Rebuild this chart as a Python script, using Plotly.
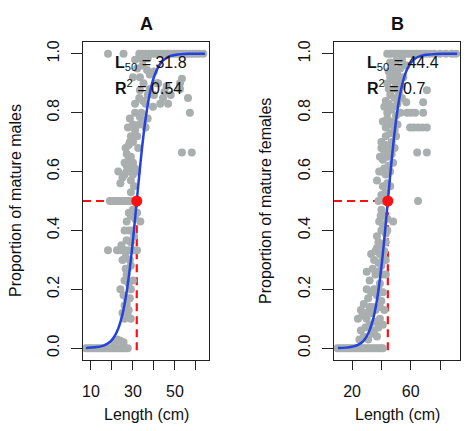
import plotly.graph_objects as go

# -------------------------------------------------
# Data
# -------------------------------------------------
MALE_LEN = [
    7.5, 8.5, 9.5, 10.5, 11.5, 12.5, 13.5, 14.5, 15.5, 16.5, 17.5, 18.5, 19.5, 20.5,
    21.5, 22.5, 23.5, 24.5, 25.5, 26.5, 27.5,
    21, 22.5, 24, 25.5, 26, 27.5, 29, 26, 27, 27, 28.5,
    24, 26, 28, 30, 26.5, 27.5, 25, 26.5, 28.5,
    18.1, 22.4, 24, 26, 28, 30, 31.9, 27, 28, 29.5,
    27, 29, 31, 33.5, 19, 21, 23, 25, 27, 29, 31, 29, 30.5,
    23, 25, 27, 29, 31, 26, 28, 30,
    27, 30, 27.6, 30, 33.3, 37, 32, 28.5,
    34.8, 39.5, 43, 46.7, 33.3, 37, 44.3,
    56.2, 57.1, 53.3, 58, 52.4,
    30, 33.3, 36.7, 41.4, 46, 52.4, 53.3,
    31, 33, 35, 37,
    25, 28, 25.5, 29, 27, 29, 24.5, 29, 30.5, 26, 28, 30, 32,
    20, 22, 24, 26, 28, 30,
    24, 26, 28, 30, 32, 27, 29,
    26.5, 28, 29, 31, 33, 35, 28.5, 31, 34, 36, 32.5,
    31, 33, 36, 38, 40, 35, 38, 32, 34.5, 40, 42, 45, 48,
    18.1, 25.5, 33, 34.5, 36, 37.5, 39, 40.5, 42, 43.5, 45, 46.5, 48, 49.5,
    51, 52.5, 54, 55.5, 57, 58.5, 60, 61.5, 63.5,
]
MALE_PROP = [
    0, 0, 0, 0, 0, 0, 0, 0, 0, 0, 0, 0, 0, 0,
    0, 0, 0, 0, 0, 0, 0,
    0.02, 0.03, 0.025, 0.02, 0.10, 0.11, 0.10, 0.145, 0.15, 0.17, 0.17,
    0.20, 0.23, 0.22, 0.23, 0.27, 0.27, 0.30, 0.31, 0.30,
    0.333, 0.333, 0.333, 0.333, 0.333, 0.333, 0.333, 0.367, 0.40, 0.40,
    0.43, 0.45, 0.44, 0.43, 0.5, 0.5, 0.5, 0.5, 0.5, 0.5, 0.5, 0.53, 0.55,
    0.60, 0.58, 0.60, 0.57, 0.61, 0.63, 0.64, 0.63,
    0.66, 0.70, 0.75, 0.76, 0.785, 0.78, 0.72, 0.70,
    0.84, 0.82, 0.83, 0.83, 0.876, 0.86, 0.85,
    0.85, 0.80, 0.665, 0.665, 0.88,
    0.92, 0.92, 0.945, 0.90, 0.89, 0.90, 0.915,
    0.98, 0.985, 0.98, 0.985,
    0.12, 0.13, 0.18, 0.20, 0.25, 0.28, 0.35, 0.36, 0.38, 0.40, 0.46, 0.47, 0.46,
    0.5, 0.5, 0.5, 0.5, 0.5, 0.5,
    0.56, 0.59, 0.61, 0.59, 0.60, 0.62, 0.65,
    0.68, 0.69, 0.72, 0.74, 0.76, 0.77, 0.78, 0.80, 0.80, 0.75, 0.68,
    0.83, 0.85, 0.83, 0.88, 0.86, 0.90, 0.93, 0.95, 0.96, 0.94, 0.90, 0.87, 0.86,
    1, 1, 1, 1, 1, 1, 1, 1, 1, 1, 1, 1, 1, 1,
    1, 1, 1, 1, 1, 1, 1, 1, 1,
]

FEMALE_LEN = [
    10, 11.5, 13, 14.5, 16, 17.5, 19, 20.5, 22, 23.5, 25, 26.5, 28, 29.5, 31, 32.5,
    34, 35.5, 37, 38.5, 40, 41,
    25, 28, 31, 34, 37,
    24, 27, 30, 33, 36, 39, 41,
    28, 31, 34, 37, 40, 42, 30, 35,
    32, 36, 39, 41, 35, 38, 41, 43, 37, 40, 43,
    37, 40, 43, 38.5, 42, 48, 40, 42, 65,
    41, 44, 37, 40, 43, 45, 48, 39, 42, 45, 64.4, 71,
    40, 43, 46, 47, 50,
    43, 46, 49, 59.6, 62, 65, 68, 71,
    44, 47, 50, 53, 57.5, 60, 63, 68.5,
    57, 68.5, 43, 46, 49, 52, 71,
    44, 47, 50, 45, 48, 51, 55, 46, 50, 54,
    26, 29, 32, 35, 38, 26, 29, 32, 36, 39, 33, 38, 41,
    30, 34, 37, 40, 43, 33, 36, 39, 42, 38, 44, 41, 44, 39.5,
    38, 40, 43, 46, 38.5, 42, 46, 41, 44, 47, 40, 43, 49,
    41, 44, 48, 51, 42, 45, 48, 51, 54, 45, 48, 51, 54, 46, 49, 53, 57, 52,
    44, 46, 48, 50, 52, 54, 56, 58, 60, 62, 64, 66, 68, 70, 73, 76, 80, 84, 88, 91,
]
FEMALE_PROP = [
    0, 0, 0, 0, 0, 0, 0, 0, 0, 0, 0, 0, 0, 0, 0, 0,
    0, 0, 0, 0, 0, 0,
    0.03, 0.04, 0.03, 0.05, 0.04,
    0.10, 0.11, 0.10, 0.12, 0.09, 0.10, 0.08,
    0.15, 0.17, 0.14, 0.18, 0.16, 0.13, 0.20, 0.20,
    0.23, 0.25, 0.22, 0.25, 0.30, 0.29, 0.31, 0.30, 0.34, 0.35, 0.36,
    0.38, 0.40, 0.39, 0.43, 0.45, 0.43, 0.47, 0.50, 0.50,
    0.55, 0.56, 0.57, 0.60, 0.59, 0.62, 0.63, 0.65, 0.67, 0.68, 0.665, 0.665,
    0.70, 0.72, 0.73, 0.70, 0.72,
    0.75, 0.76, 0.74, 0.75, 0.75, 0.75, 0.75, 0.75,
    0.80, 0.81, 0.79, 0.80, 0.80, 0.80, 0.80, 0.80,
    0.835, 0.835, 0.84, 0.86, 0.85, 0.87, 0.876,
    0.90, 0.91, 0.90, 0.94, 0.95, 0.93, 0.92, 0.97, 0.975, 0.98,
    0.06, 0.07, 0.08, 0.06, 0.07, 0.13, 0.12, 0.14, 0.13, 0.14, 0.19, 0.20, 0.19,
    0.26, 0.27, 0.26, 0.28, 0.25, 0.32, 0.33, 0.32, 0.33, 0.36, 0.40, 0.42, 0.44, 0.45,
    0.50, 0.52, 0.53, 0.55, 0.60, 0.61, 0.60, 0.64, 0.65, 0.66, 0.68, 0.69, 0.68,
    0.77, 0.78, 0.77, 0.76, 0.82, 0.83, 0.82, 0.83, 0.85, 0.88, 0.88, 0.88, 0.89,
    0.92, 0.93, 0.95, 0.96, 0.91,
    1, 1, 1, 1, 1, 1, 1, 1, 1, 1, 1, 1, 1, 1, 1, 1, 1, 1, 1, 1,
]

# fitted ogives, points
MALE_CURVE_LEN = [7.6, 12, 16, 19, 21, 23, 25, 27, 29, 30.5, 31.8, 33, 34.5, 36,
                  38, 40, 43, 47, 52, 58, 64.3]
MALE_CURVE_P = [0.001, 0.003, 0.009, 0.021, 0.038, 0.067, 0.115, 0.192, 0.301, 0.404,
                0.5, 0.589, 0.692, 0.779, 0.865, 0.921, 0.966, 0.990, 0.998, 1.0, 1.0]
FEMALE_CURVE_LEN = [10.4, 16, 20, 24, 28, 31, 34, 37, 40, 42.5, 44.4, 46.5, 49, 52,
                    55, 58, 62, 67, 74, 82, 91.7]
FEMALE_CURVE_P = [0.001, 0.002, 0.005, 0.011, 0.026, 0.050, 0.092, 0.164, 0.275, 0.397,
                  0.5, 0.613, 0.733, 0.842, 0.911, 0.952, 0.980, 0.993, 0.998, 1.0, 1.0]

L50 = [31.8, 44.4]
R2 = ["0.54", "0.7"]
PANELS = ["A", "B"]
Y_TITLES = ["Proportion of mature males", "Proportion of mature females"]
X_LABELLED = [[10, 30, 50], [20, 60]]
X_UNLABELLED = [[20, 40, 60], [40, 80]]
Y_TICKS = [0, 0.2, 0.4, 0.6, 0.8, 1.0]
Y_TICK_TEXT = ["0.0", "0.2", "0.4", "0.6", "0.8", "1.0"]

# -------------------------------------------------
# Style
# -------------------------------------------------
W, H = 474, 431
FONT = "Arial, Liberation Sans, sans-serif"
GRAY = "#a9aeae"
BLUE = "#2342e0"
RED = "#ff1010"
X_RANGES = [[6.2, 66.2], [7.7, 93.6]]
Y_RANGE = [-0.04, 1.04]
X_DOMAINS = [[83 / W, 209 / W], [334 / W, 460 / W]]
Y_DOMAIN = [1 - 360 / H, 1 - 42 / H]

fig = go.Figure()

datasets = [
    (MALE_LEN, MALE_PROP, MALE_CURVE_LEN, MALE_CURVE_P),
    (FEMALE_LEN, FEMALE_PROP, FEMALE_CURVE_LEN, FEMALE_CURVE_P),
]

for i, (lx, py, cx, cy) in enumerate(datasets):
    xa = "x" if i == 0 else "x2"
    ya = "y" if i == 0 else "y2"
    # dashed guide lines to L50
    fig.add_trace(go.Scatter(
        x=[X_RANGES[i][0], L50[i], L50[i]], y=[0.5, 0.5, -0.02],
        mode="lines", line=dict(color=RED, width=2.2, dash="8px,5px"),
        xaxis=xa, yaxis=ya, hoverinfo="skip", showlegend=False,
    ))
    fig.add_trace(go.Scatter(
        x=lx, y=py, mode="markers",
        marker=dict(color=GRAY, size=8, line=dict(width=0)),
        xaxis=xa, yaxis=ya, showlegend=False,
    ))
    fig.add_trace(go.Scatter(
        x=cx, y=cy, mode="lines", line=dict(color=BLUE, width=2.5, shape="spline"),
        xaxis=xa, yaxis=ya, showlegend=False,
    ))
    fig.add_trace(go.Scatter(
        x=[L50[i]], y=[0.5], mode="markers",
        marker=dict(color=RED, size=11),
        xaxis=xa, yaxis=ya, showlegend=False,
    ))

axis_common = dict(
    showline=True, mirror=True, linecolor="#222", linewidth=1,
    ticks="outside", tickcolor="#222", showgrid=False, zeroline=False,
    automargin=False,
    tickfont=dict(size=16, color="#111", family=FONT),
)

for i in range(2):
    sfx = "" if i == 0 else "2"
    fig.update_layout(**{
        f"xaxis{sfx}": dict(
            axis_common, domain=X_DOMAINS[i], range=X_RANGES[i],
            anchor=f"y{sfx}", tickmode="array", tickvals=X_LABELLED[i],
            ticklen=9, ticklabelstandoff=8,
            minor=dict(tickmode="array", tickvals=X_UNLABELLED[i], ticks="outside",
                       ticklen=9, tickcolor="#222", showgrid=False),
        ),
        f"yaxis{sfx}": dict(
            axis_common, domain=Y_DOMAIN, range=Y_RANGE,
            anchor=f"x{sfx}", tickvals=Y_TICKS, ticktext=Y_TICK_TEXT,
            tickangle=-90, ticklen=11, ticklabelstandoff=6,
        ),
    })

annotations = []
text_x = [20.5, 28.9]
for i in range(2):
    sfx = "" if i == 0 else "2"
    xc = (X_DOMAINS[i][0] + X_DOMAINS[i][1]) / 2
    annotations.append(dict(
        text=f"<b>{PANELS[i]}</b>", x=xc, y=1 - 24 / H, xref="paper", yref="paper",
        xanchor="center", yanchor="middle", showarrow=False,
        font=dict(size=18, family=FONT, color="#111"),
    ))
    annotations.append(dict(
        text="Length (cm)", x=xc, y=1 - 414 / H, xref="paper", yref="paper",
        xanchor="center", yanchor="middle", showarrow=False,
        font=dict(size=16, family=FONT, color="#111"),
    ))
    annotations.append(dict(
        text=Y_TITLES[i], x=(15 if i == 0 else 265) / W, y=1 - 201 / H,
        xref="paper", yref="paper", xanchor="center", yanchor="middle",
        textangle=-90, showarrow=False,
        font=dict(size=16, family=FONT, color="#111"),
    ))
    annotations.append(dict(
        text=f"<b>L</b><sub>50</sub> = {L50[i]}", x=text_x[i], y=0.968,
        xref=f"x{sfx}", yref=f"y{sfx}", xanchor="left", showarrow=False,
        font=dict(size=16, family=FONT, color="#111"),
    ))
    annotations.append(dict(
        text=f"<b>R</b><sup>2</sup> = {R2[i]}", x=text_x[i], y=0.886,
        xref=f"x{sfx}", yref=f"y{sfx}", xanchor="left", showarrow=False,
        font=dict(size=16, family=FONT, color="#111"),
    ))

fig.update_layout(
    width=W, height=H,
    margin=dict(l=0, r=0, t=0, b=0),
    paper_bgcolor="white", plot_bgcolor="white",
    font=dict(family=FONT),
    annotations=annotations,
)

# drop the browser's default page margin so the figure sits at the window corner
fig.write_html("out.html", config={"displayModeBar": False},
               post_script="document.body.style.margin = '0';")
